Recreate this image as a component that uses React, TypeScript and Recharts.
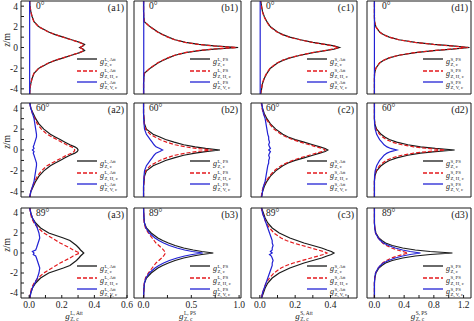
import React from 'react'
import { LineChart, Line, XAxis, YAxis } from 'recharts'

// depth grid (z / m), shared by every profile
const zGrid = [-4.5, -4, -3.5, -3, -2.5, -2, -1.5, -1.25, -1, -0.75, -0.5, -0.3, -0.15, 0, 0.15, 0.3, 0.5, 0.75, 1, 1.25, 1.5, 2, 2.5, 3, 3.5, 4, 4.5]
const zTicks = [-4, -3, -2, -1, 0, 1, 2, 3, 4]

// 0 deg
const a1Tot = [0.003, 0.005, 0.01, 0.018, 0.03, 0.06, 0.12, 0.16, 0.21, 0.26, 0.31, 0.34, 0.33, 0.31, 0.33, 0.34, 0.31, 0.26, 0.21, 0.16, 0.12, 0.06, 0.03, 0.018, 0.01, 0.005, 0.003]
const a1H = [0.003, 0.005, 0.01, 0.017, 0.029, 0.058, 0.118, 0.158, 0.207, 0.257, 0.307, 0.336, 0.327, 0.307, 0.327, 0.336, 0.307, 0.257, 0.207, 0.158, 0.118, 0.058, 0.029, 0.017, 0.01, 0.005, 0.003]
const a1V = [0.003, 0.003, 0.003, 0.003, 0.003, 0.003, 0.003, 0.003, 0.003, 0.003, 0.003, 0.003, 0.003, 0.003, 0.003, 0.003, 0.003, 0.003, 0.003, 0.003, 0.003, 0.003, 0.003, 0.003, 0.003, 0.003, 0.003]
const b1Tot = [0, 0, 0, 0.002, 0.008, 0.07, 0.15, 0.2, 0.26, 0.33, 0.44, 0.58, 0.74, 0.99, 0.74, 0.58, 0.44, 0.33, 0.26, 0.2, 0.15, 0.07, 0.008, 0.002, 0, 0, 0]
const b1H = [0, 0, 0, 0.002, 0.007, 0.068, 0.145, 0.195, 0.255, 0.325, 0.43, 0.57, 0.73, 0.97, 0.73, 0.57, 0.43, 0.325, 0.255, 0.195, 0.145, 0.068, 0.007, 0.002, 0, 0, 0]
const b1V = [0.002, 0.002, 0.002, 0.002, 0.002, 0.002, 0.002, 0.002, 0.002, 0.002, 0.002, 0.002, 0.002, 0.002, 0.002, 0.002, 0.002, 0.002, 0.002, 0.002, 0.002, 0.002, 0.002, 0.002, 0.002, 0.002, 0.002]
const c1Tot = [0.005, 0.01, 0.015, 0.025, 0.04, 0.06, 0.1, 0.13, 0.17, 0.23, 0.3, 0.37, 0.42, 0.45, 0.42, 0.37, 0.3, 0.23, 0.17, 0.13, 0.1, 0.06, 0.04, 0.025, 0.015, 0.01, 0.005]
const c1H = [0.004, 0.009, 0.014, 0.023, 0.038, 0.058, 0.097, 0.127, 0.167, 0.226, 0.296, 0.366, 0.415, 0.445, 0.415, 0.366, 0.296, 0.226, 0.167, 0.127, 0.097, 0.058, 0.038, 0.023, 0.014, 0.009, 0.004]
const c1V = [0.002, 0.002, 0.002, 0.002, 0.002, 0.002, 0.002, 0.002, 0.002, 0.002, 0.002, 0.002, 0.002, 0.002, 0.002, 0.002, 0.002, 0.002, 0.002, 0.002, 0.002, 0.002, 0.002, 0.002, 0.002, 0.002, 0.002]
const d1Tot = [0, 0, 0, 0, 0.002, 0.02, 0.07, 0.12, 0.2, 0.33, 0.55, 0.8, 1.05, 1.28, 1.05, 0.8, 0.55, 0.33, 0.2, 0.12, 0.07, 0.02, 0.002, 0, 0, 0, 0]
const d1H = [0, 0, 0, 0, 0.002, 0.019, 0.068, 0.117, 0.196, 0.325, 0.54, 0.79, 1.03, 1.26, 1.03, 0.79, 0.54, 0.325, 0.196, 0.117, 0.068, 0.019, 0.002, 0, 0, 0, 0]
const d1V = [0, 0, 0, 0, 0, 0, 0, 0, 0, 0, 0, 0, 0, 0, 0, 0, 0, 0, 0, 0, 0, 0, 0, 0, 0, 0, 0]

// 60 deg
const a2Tot = [0.005, 0.01, 0.025, 0.04, 0.06, 0.09, 0.13, 0.16, 0.19, 0.22, 0.25, 0.28, 0.295, 0.3, 0.295, 0.28, 0.25, 0.22, 0.19, 0.16, 0.13, 0.09, 0.06, 0.04, 0.025, 0.01, 0.005]
const a2H = [0.004, 0.01, 0.02, 0.035, 0.05, 0.075, 0.11, 0.14, 0.17, 0.2, 0.23, 0.26, 0.275, 0.28, 0.275, 0.26, 0.23, 0.2, 0.17, 0.14, 0.11, 0.075, 0.05, 0.035, 0.02, 0.01, 0.004]
const a2V = [0.003, 0.01, 0.02, 0.03, 0.035, 0.04, 0.045, 0.045, 0.04, 0.035, 0.03, 0.025, 0.03, 0.02, 0.03, 0.025, 0.03, 0.035, 0.04, 0.045, 0.045, 0.04, 0.035, 0.03, 0.02, 0.01, 0.003]
const b2Tot = [0, 0, 0, 0.005, 0.01, 0.03, 0.1, 0.17, 0.23, 0.32, 0.42, 0.54, 0.65, 0.8, 0.65, 0.54, 0.42, 0.32, 0.23, 0.17, 0.1, 0.03, 0.01, 0.005, 0, 0, 0]
const b2H = [0, 0, 0, 0.004, 0.008, 0.02, 0.07, 0.12, 0.17, 0.24, 0.33, 0.44, 0.56, 0.72, 0.56, 0.44, 0.33, 0.24, 0.17, 0.12, 0.07, 0.02, 0.008, 0.004, 0, 0, 0]
const b2V = [0, 0, 0, 0.002, 0.005, 0.01, 0.03, 0.05, 0.07, 0.09, 0.11, 0.13, 0.17, 0.2, 0.17, 0.13, 0.11, 0.09, 0.07, 0.05, 0.03, 0.01, 0.005, 0.002, 0, 0, 0]
const c2Tot = [0.01, 0.015, 0.025, 0.04, 0.06, 0.09, 0.13, 0.16, 0.2, 0.25, 0.3, 0.34, 0.37, 0.385, 0.37, 0.34, 0.3, 0.25, 0.2, 0.16, 0.13, 0.09, 0.06, 0.04, 0.025, 0.015, 0.01]
const c2H = [0.008, 0.012, 0.02, 0.035, 0.055, 0.08, 0.12, 0.15, 0.185, 0.23, 0.28, 0.32, 0.355, 0.37, 0.355, 0.32, 0.28, 0.23, 0.185, 0.15, 0.12, 0.08, 0.055, 0.035, 0.02, 0.012, 0.008]
const c2V = [0.01, 0.015, 0.02, 0.03, 0.035, 0.04, 0.045, 0.05, 0.05, 0.055, 0.05, 0.055, 0.06, 0.05, 0.06, 0.055, 0.05, 0.055, 0.05, 0.05, 0.045, 0.04, 0.035, 0.03, 0.02, 0.015, 0.01]
const d2Tot = [0, 0, 0, 0, 0.005, 0.03, 0.09, 0.14, 0.2, 0.3, 0.45, 0.62, 0.82, 1.08, 0.82, 0.62, 0.45, 0.3, 0.2, 0.14, 0.09, 0.03, 0.005, 0, 0, 0, 0]
const d2H = [0, 0, 0, 0, 0.004, 0.02, 0.07, 0.11, 0.16, 0.24, 0.37, 0.53, 0.72, 0.95, 0.72, 0.53, 0.37, 0.24, 0.16, 0.11, 0.07, 0.02, 0.004, 0, 0, 0, 0]
const d2V = [0, 0, 0, 0, 0.002, 0.01, 0.03, 0.05, 0.07, 0.1, 0.13, 0.17, 0.22, 0.3, 0.22, 0.17, 0.13, 0.1, 0.07, 0.05, 0.03, 0.01, 0.002, 0, 0, 0, 0]

// 89 deg
const a3Tot = [0.005, 0.01, 0.02, 0.04, 0.07, 0.12, 0.21, 0.25, 0.27, 0.29, 0.305, 0.315, 0.325, 0.335, 0.325, 0.315, 0.305, 0.29, 0.27, 0.25, 0.21, 0.12, 0.07, 0.04, 0.02, 0.01, 0.005]
const a3H = [0.004, 0.008, 0.015, 0.03, 0.055, 0.09, 0.14, 0.165, 0.19, 0.22, 0.25, 0.27, 0.29, 0.31, 0.29, 0.27, 0.25, 0.22, 0.19, 0.165, 0.14, 0.09, 0.055, 0.03, 0.015, 0.008, 0.004]
const a3V = [0.003, 0.01, 0.02, 0.035, 0.05, 0.06, 0.065, 0.06, 0.055, 0.05, 0.045, 0.04, 0.025, 0.03, 0.02, 0.04, 0.045, 0.05, 0.055, 0.06, 0.065, 0.06, 0.05, 0.035, 0.02, 0.01, 0.003]
const b3Tot = [0, 0.002, 0.005, 0.01, 0.03, 0.08, 0.15, 0.2, 0.26, 0.33, 0.42, 0.52, 0.61, 0.73, 0.61, 0.52, 0.42, 0.33, 0.26, 0.2, 0.15, 0.08, 0.03, 0.01, 0.005, 0.002, 0]
const b3H = [0, 0.001, 0.003, 0.008, 0.02, 0.05, 0.09, 0.11, 0.13, 0.16, 0.19, 0.21, 0.22, 0.23, 0.22, 0.21, 0.19, 0.16, 0.13, 0.11, 0.09, 0.05, 0.02, 0.008, 0.003, 0.001, 0]
const b3V = [0, 0.002, 0.004, 0.009, 0.025, 0.06, 0.12, 0.16, 0.21, 0.27, 0.35, 0.43, 0.51, 0.62, 0.51, 0.43, 0.35, 0.27, 0.21, 0.16, 0.12, 0.06, 0.025, 0.009, 0.004, 0.002, 0]
const c3Tot = [0.01, 0.02, 0.03, 0.045, 0.07, 0.11, 0.17, 0.21, 0.25, 0.3, 0.35, 0.38, 0.405, 0.42, 0.405, 0.38, 0.35, 0.3, 0.25, 0.21, 0.17, 0.11, 0.07, 0.045, 0.03, 0.02, 0.01]
const c3H = [0.008, 0.015, 0.025, 0.035, 0.055, 0.08, 0.12, 0.15, 0.19, 0.24, 0.29, 0.33, 0.36, 0.38, 0.36, 0.33, 0.29, 0.24, 0.19, 0.15, 0.12, 0.08, 0.055, 0.035, 0.025, 0.015, 0.008]
const c3V = [0.01, 0.015, 0.025, 0.035, 0.045, 0.055, 0.065, 0.07, 0.07, 0.075, 0.07, 0.065, 0.055, 0.07, 0.06, 0.07, 0.07, 0.075, 0.07, 0.07, 0.065, 0.055, 0.045, 0.035, 0.025, 0.015, 0.01]
const d3Tot = [0, 0, 0, 0, 0.005, 0.02, 0.06, 0.1, 0.15, 0.24, 0.38, 0.55, 0.75, 1.05, 0.75, 0.55, 0.38, 0.24, 0.15, 0.1, 0.06, 0.02, 0.005, 0, 0, 0, 0]
const d3H = [0, 0, 0, 0, 0.004, 0.015, 0.05, 0.08, 0.11, 0.16, 0.23, 0.31, 0.38, 0.45, 0.38, 0.31, 0.23, 0.16, 0.11, 0.08, 0.05, 0.015, 0.004, 0, 0, 0, 0]
const d3V = [0, 0, 0, 0, 0.004, 0.015, 0.05, 0.08, 0.12, 0.19, 0.28, 0.38, 0.48, 0.62, 0.48, 0.38, 0.28, 0.19, 0.12, 0.08, 0.05, 0.015, 0.004, 0, 0, 0, 0]

const angles = ['0°', '60°', '89°']
const letters = ['a', 'b', 'c', 'd']
const supers = ['L, Att', 'L, PS', 'S, Att', 'S, PS']
const legendSubs = ['Z, c', 'Z, H, c', 'Z, V, c']

const series = [
  [[a1Tot, a1H, a1V], [b1Tot, b1H, b1V], [c1Tot, c1H, c1V], [d1Tot, d1H, d1V]],
  [[a2Tot, a2H, a2V], [b2Tot, b2H, b2V], [c2Tot, c2H, c2V], [d2Tot, d2H, d2V]],
  [[a3Tot, a3H, a3V], [b3Tot, b3H, b3V], [c3Tot, c3H, c3V], [d3Tot, d3H, d3V]],
]

const FONT = "'Liberation Serif', 'Times New Roman', serif"
const INK = '#1a1a1a'
const RED = '#e3191c'
const BLUE = '#2222d4'
const COLORS = [INK, RED, BLUE]

const COLS = [
  { left: 21, width: 106, domain: [-0.05, 0.6], ticks: [0, 0.1, 0.2, 0.3, 0.4, 0.5, 0.6], labels: [0, 0.2, 0.4, 0.6] },
  { left: 134, width: 107, domain: [-0.1, 1.02], ticks: [0, 0.25, 0.5, 0.75, 1], labels: [0, 0.5, 1] },
  { left: 251, width: 106, domain: [-0.05, 0.55], ticks: [0, 0.1, 0.2, 0.3, 0.4, 0.5], labels: [0, 0.2, 0.4] },
  { left: 367, width: 104, domain: [-0.1, 1.3], ticks: [0, 0.2, 0.4, 0.6, 0.8, 1, 1.2], labels: [0, 0.4, 0.8, 1.2] },
]
const ROWS = [
  { top: 1, height: 93 },
  { top: 103, height: 94 },
  { top: 208, height: 90 },
]

function GLabel({ sup, sub, size }: { sup: string; sub: string; size: number }) {
  return (
    <span style={{ display: 'inline-flex', alignItems: 'center', fontFamily: FONT, lineHeight: 1, color: INK }}>
      <span style={{ fontStyle: 'italic', fontSize: size }}>g</span>
      <span style={{ display: 'inline-flex', flexDirection: 'column', fontSize: size * 0.6, marginLeft: 0.5, lineHeight: 1.05 }}>
        <span>{sup}</span>
        <span>{sub}</span>
      </span>
    </span>
  )
}

function Panel({ ri, ci }: { ri: number; ci: number }) {
  const col = COLS[ci]
  const row = ROWS[ri]
  const [tot, h, v] = series[ri][ci]
  const data = zGrid.map((z, i) => ({ z, tot: tot[i], h: h[i], v: v[i] }))
  const tickStyle = { fontSize: 9.5, fill: INK, fontFamily: FONT }
  return (
    <div style={{ position: 'absolute', left: col.left - 22, top: row.top - 1 }}>
      <LineChart layout="vertical" width={col.width + 23 + 10} height={row.height + 17} data={data}
        margin={{ top: 0, right: 10, bottom: 0, left: 0 }}>
        <XAxis type="number" domain={col.domain} ticks={col.ticks} interval={0} allowDataOverflow height={16}
          tickSize={-3} tickMargin={6} stroke={INK}
          tick={ri === 2 ? tickStyle : false}
          tickFormatter={(x: number) => (col.labels.includes(x) ? x.toFixed(1) : '')} />
        <XAxis xAxisId="top" orientation="top" type="number" domain={col.domain} ticks={col.ticks} interval={0}
          allowDataOverflow height={1} tickSize={-3} tick={false} stroke={INK} />
        <YAxis type="number" dataKey="z" domain={[-4.5, 4.5]} reversed ticks={zTicks} interval={0} width={22}
          tickSize={-3} tickMargin={6} stroke={INK}
          tick={ci === 0 ? tickStyle : false}
          tickFormatter={(y: number) => (y % 2 === 0 ? String(y) : '')} />
        <YAxis yAxisId="right" orientation="right" type="number" domain={[-4.5, 4.5]} reversed ticks={zTicks}
          interval={0} width={1} tickSize={-3} tick={false} stroke={INK} />
        <Line dataKey="tot" stroke={INK} strokeWidth={1.2} dot={false} isAnimationActive={false} />
        <Line dataKey="h" stroke={RED} strokeWidth={1.2} strokeDasharray="4 2" dot={false} isAnimationActive={false} />
        <Line dataKey="v" stroke={BLUE} strokeWidth={1.2} dot={false} isAnimationActive={false} />
      </LineChart>
    </div>
  )
}

function Overlay({ ri, ci }: { ri: number; ci: number }) {
  const col = COLS[ci]
  const row = ROWS[ri]
  return (
    <>
      <div style={{ position: 'absolute', left: col.left + 15, top: row.top, fontFamily: FONT, fontSize: 9.5, color: INK }}>
        {angles[ri]}
      </div>
      <div style={{ position: 'absolute', right: 474 - (col.left + col.width) + 3, top: row.top + 1, fontFamily: FONT, fontSize: 10, color: INK }}>
        ({letters[ci]}{ri + 1})
      </div>
      {legendSubs.map((sub, k) => (
        <div key={k} style={{ position: 'absolute', left: col.left + 56, top: row.top + 52 + k * 11.5, height: 12, display: 'flex', alignItems: 'center' }}>
          <svg width={20} height={4} style={{ display: 'block' }}>
            <line x1={0} y1={2} x2={20} y2={2} stroke={COLORS[k]} strokeWidth={1.3} strokeDasharray={k === 1 ? '4 2' : undefined} />
          </svg>
          <span style={{ marginLeft: 3 }}>
            <GLabel sup={supers[ci]} sub={sub} size={8} />
          </span>
        </div>
      ))}
    </>
  )
}

export default function App() {
  return (
    <div style={{ position: 'absolute', left: 0, top: 0, width: 474, height: 321, background: '#fff', overflow: 'hidden' }}>
      {ROWS.map((_, ri) => COLS.map((_, ci) => <Panel key={`p${ri}${ci}`} ri={ri} ci={ci} />))}
      {ROWS.map((_, ri) => COLS.map((_, ci) => <Overlay key={`o${ri}${ci}`} ri={ri} ci={ci} />))}
      {ROWS.map((row, ri) => (
        <div key={`z${ri}`} style={{
          position: 'absolute', left: 7, top: row.top + row.height / 2 - 8, transform: 'translate(-50%, -50%) rotate(-90deg)',
          fontFamily: FONT, fontSize: 9.5, color: INK, whiteSpace: 'nowrap',
        }}>
          <i>z</i>/m
        </div>
      ))}
      {COLS.map((col, ci) => (
        <div key={`t${ci}`} style={{ position: 'absolute', left: col.left + col.width / 2, top: 314, transform: 'translate(-50%, -50%)' }}>
          <GLabel sup={supers[ci]} sub="Z, c" size={9} />
        </div>
      ))}
    </div>
  )
}
